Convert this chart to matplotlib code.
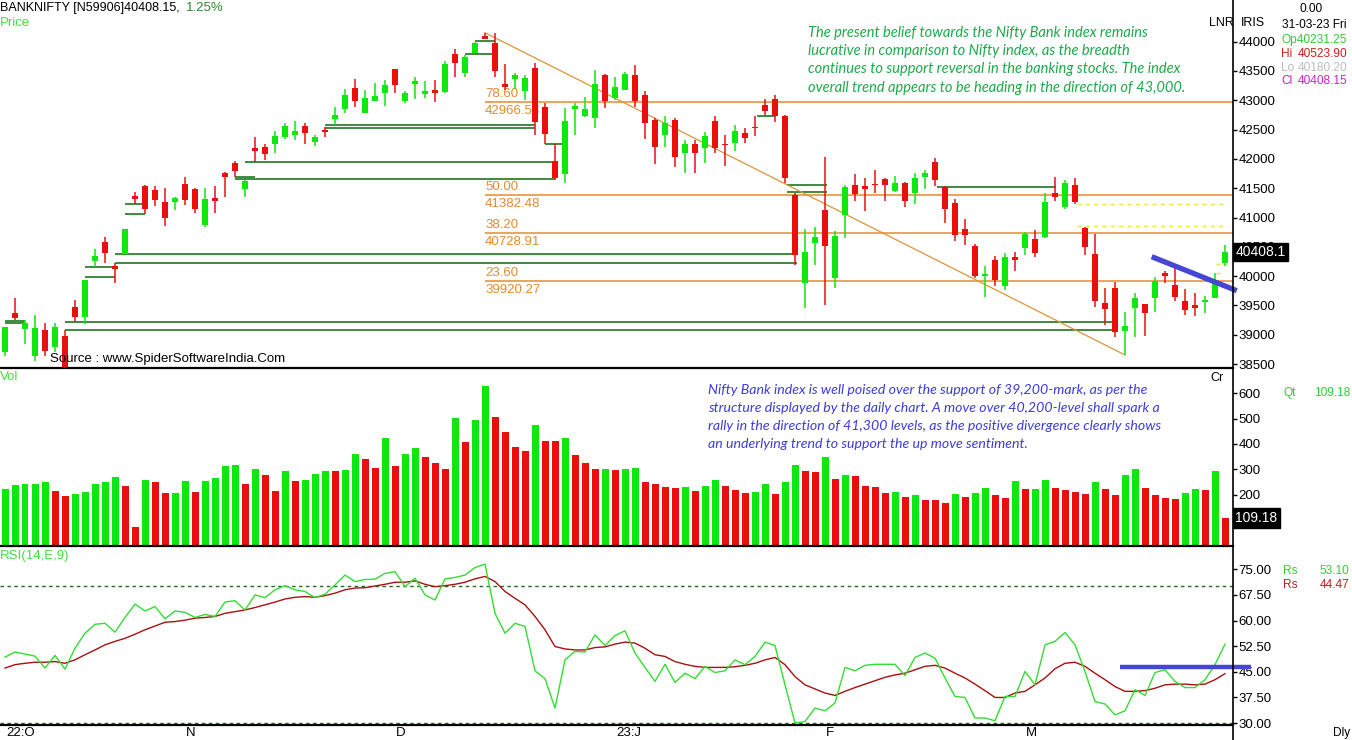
import matplotlib
matplotlib.use("Agg")
import matplotlib.pyplot as plt
import matplotlib.transforms as mtransforms
from matplotlib.lines import Line2D
import numpy as np

W, H = 1352, 740
AXR = 1233  # pixel x of the right price scale

# daily BANKNIFTY candles, Oct-22 .. 31-Mar-23
opens = [38711, 39366, 39103, 38638, 39081, 38797, 38979, 39479, 39308, 40258,
         40582, 40173, 40378, 41367, 41538, 41470, 41270, 41270, 41572, 41481,
         40872, 41333, 41765, 41925, 41481, 42191, 42208, 42249, 42379, 42408,
         42561, 42294, 42493, 42686, 42846, 43204, 42778, 42983, 43130, 43529,
         42993, 43278, 43102, 43176, 43147, 43790, 43471, 43812, 44097, 43972,
         43273, 43358, 43164, 43546, 42880, 41964, 41738, 42846, 42732, 42693,
         43431, 43034, 43176, 43426, 43090, 42664, 42408, 42664, 42095, 42249,
         42180, 42647, 42254, 42277, 42447, 42550, 42920, 43017, 42732, 41384,
         39878, 40571, 41128, 39963, 41043, 41555, 41538, 41567, 41652, 41458,
         41584, 41424, 41686, 41942, 41526, 41253, 40799, 40514, 40002, 40275,
         39832, 40321, 40485, 40629, 40673, 41424, 41185, 41555, 40816, 40378,
         39537, 39793, 39069, 39451, 39525, 39622, 40059, 39849, 39576, 39508,
         39554, 39622, 40231.25]
highs = [39140, 39622, 39252, 39337, 39206, 39195, 39081, 39593, 39934, 40458,
         40663, 40219, 40799, 41441, 41555, 41538, 41499, 41355, 41697, 41499,
         41499, 41538, 41782, 41964, 41640, 42379, 42254, 42476, 42618, 42647,
         42607, 42408, 42550, 42880, 43187, 43363, 43176, 43290, 43346, 43529,
         43164, 43392, 43329, 43346, 43670, 43870, 43773, 44000, 44153, 44143,
         43619, 43471, 43431, 43631, 42949, 42254, 42863, 42949, 43051, 43517,
         43449, 43392, 43488, 43602, 43164, 42693, 42732, 42693, 42323, 42323,
         42465, 42732, 42408, 42578, 42532, 42732, 43017, 43090, 42749, 41413,
         40799, 40833, 42027, 40776, 41555, 41743, 41669, 41811, 41669, 41708,
         41612, 41754, 41811, 42010, 41538, 41311, 40970, 40543, 40173, 40344,
         40400, 40417, 40759, 40787, 41413, 41686, 41640, 41669, 40844, 40714,
         39793, 39905, 39393, 39718, 39525, 39980, 40093, 40144, 39776, 39707,
         39661, 40059, 40523.90]
lows = [38638, 39252, 38837, 38552, 38638, 38711, 38440, 39223, 39184, 40161,
        40229, 39878, 40378, 41231, 41060, 41197, 40855, 41128, 41214, 41083,
        40844, 41083, 41355, 41697, 41345, 41942, 41981, 42106, 42335, 42323,
        42249, 42225, 42379, 42578, 42788, 42891, 42778, 42983, 42908, 43130,
        42959, 43017, 43034, 42976, 43130, 43392, 43403, 43802, 44040, 43403,
        43176, 43188, 43005, 42408, 42254, 41640, 41594, 42408, 42721, 42522,
        42863, 43005, 43176, 42891, 42335, 41908, 42208, 41867, 41754, 41765,
        41924, 42095, 41884, 42140, 42266, 42391, 42749, 42635, 41584, 40190,
        39451, 40190, 39508, 39793, 40646, 41287, 41117, 41424, 41287, 41441,
        41185, 41231, 41481, 41538, 40912, 40605, 40531, 39963, 39639, 39837,
        39764, 40093, 40361, 40332, 40646, 41287, 41140, 41231, 40361, 39479,
        39167, 38967, 38655, 38956, 38978, 39393, 39878, 39581, 39337, 39320,
        39367, 39622, 40180.20]
closes = [39127, 39291, 39206, 39110, 38728, 39127, 38455, 39308, 39934, 40344,
          40390, 40117, 40799, 41321, 41140, 41299, 40997, 41333, 41299, 41145,
          41316, 41277, 41697, 41799, 41623, 42140, 42084, 42391, 42561, 42476,
          42447, 42379, 42465, 42749, 43085, 42993, 43034, 43073, 43256, 43261,
          43119, 43334, 43159, 43119, 43619, 43641, 43733, 43972, 44051, 43505,
          43232, 43431, 43375, 42635, 42420, 41679, 42647, 42903, 42846, 43273,
          42993, 43222, 43449, 42993, 42618, 42198, 42607, 42027, 42249, 42095,
          42391, 42180, 42237, 42481, 42351, 42522, 42823, 42732, 41669, 40361,
          40407, 40663, 40514, 40685, 41516, 41401, 41492, 41550, 41555, 41584,
          41287, 41669, 41765, 41640, 41140, 40702, 40697, 40002, 40031, 39934,
          40321, 40275, 40714, 40400, 41270, 41356, 41594, 41270, 40502, 39581,
          39434, 39052, 39149, 39622, 39377, 39922, 40002, 39639, 39422, 39452,
          39594, 39905, 40408.15]

# volume in Cr, and bar colour (G = up day, R = down day)
volumes = [224, 239, 243, 243, 251, 216, 196, 204, 212, 243,
           251, 271, 235, 74, 259, 251, 208, 208, 255, 212,
           255, 267, 314, 318, 243, 302, 278, 216, 293, 253,
           259, 283, 294, 293, 297, 361, 341, 306, 424, 314,
           361, 384, 349, 326, 302, 503, 408, 495, 629, 507,
           448, 389, 373, 475, 412, 412, 424, 356, 326, 302,
           302, 298, 302, 306, 251, 243, 231, 227, 231, 216,
           235, 259, 235, 219, 208, 212, 243, 204, 251, 318,
           293, 289, 349, 263, 278, 275, 235, 231, 208, 212,
           192, 200, 180, 180, 168, 204, 192, 208, 227, 200,
           188, 255, 224, 224, 259, 227, 219, 212, 204, 251,
           224, 200, 278, 302, 227, 200, 188, 184, 208, 224,
           219, 294, 109.18]
vol_dir = ("GGGGGRRGGGGGRRGRRGGRGGGGRGRRGRGGGRGGRRGRGGRRRGRGGRRRRGRRGRRRGR"
           "GGRRRRGRGGRRRGGRGGRRGRGRRRRGRGRRRGRGGRRGRGGRRRRGRRGGRRRRGGRGR")

# RSI(14) and its 9-period EMA
rsi = [49.3, 50.8, 50.2, 49.6, 46.1, 49.8, 45.8, 51.9, 56.3, 58.9,
       59.2, 56.6, 60.9, 64.8, 62.8, 64.1, 60.5, 62.8, 62.4, 60.9,
       61.8, 61.2, 65.4, 65.8, 63.1, 67.5, 66.7, 69.0, 70.2, 69.0,
       68.5, 66.7, 67.7, 70.4, 73.3, 71.4, 72.0, 72.1, 73.8, 74.3,
       69.9, 72.4, 67.5, 66.0, 72.2, 72.6, 73.3, 75.5, 76.5, 62.1,
       56.3, 59.2, 58.3, 45.3, 43.0, 34.4, 48.5, 51.0, 50.8, 55.8,
       52.7, 55.6, 57.0, 50.5, 46.3, 42.2, 47.2, 41.9, 44.6, 43.0,
       46.6, 44.8, 45.3, 48.5, 47.1, 49.5, 53.7, 52.7, 41.2, 30.0,
       30.5, 34.4, 33.6, 35.9, 46.3, 45.3, 46.9, 47.2, 47.2, 47.2,
       43.9, 49.2, 50.5, 49.0, 43.2, 37.8, 37.5, 31.5, 31.5, 30.7,
       37.8, 37.8, 45.1, 41.2, 52.9, 53.9, 56.5, 52.9, 45.1, 36.3,
       35.6, 32.4, 33.6, 39.8, 38.1, 44.8, 45.6, 42.2, 40.4, 40.4,
       42.7, 47.1, 53.10]
rsi_signal = [46.1, 47.1, 47.5, 47.8, 47.8, 48.0, 47.5, 48.5, 50.0, 51.4,
              52.9, 53.9, 54.8, 56.0, 57.3, 58.4, 59.5, 59.7, 60.1, 60.7,
              60.9, 61.2, 62.1, 62.6, 63.1, 63.8, 64.6, 65.4, 66.3, 66.8,
              67.0, 66.8, 67.3, 68.0, 69.0, 69.5, 69.6, 70.1, 70.6, 71.2,
              71.2, 71.6, 70.6, 69.9, 70.2, 70.6, 71.2, 72.2, 72.9, 71.4,
              68.5, 66.5, 64.6, 61.2, 57.3, 52.4, 51.7, 51.4, 51.4, 52.1,
              52.3, 53.1, 53.7, 53.4, 51.9, 50.0, 49.5, 48.0, 47.2, 46.6,
              46.3, 46.3, 46.3, 46.5, 46.9, 47.5, 48.5, 49.2, 47.1, 43.6,
              41.2, 40.0, 38.8, 38.1, 39.3, 40.4, 41.4, 42.4, 43.4, 44.1,
              44.6, 45.6, 46.6, 46.9, 46.1, 44.6, 43.2, 41.4, 39.5, 37.5,
              37.5, 38.8, 39.3, 41.2, 43.2, 45.9, 47.5, 47.8, 46.6, 44.6,
              42.7, 40.7, 39.3, 39.3, 39.5, 40.2, 41.2, 41.4, 41.4, 41.2,
              41.4, 42.7, 44.47]

month_ticks = [0, 18, 39, 61, 82, 102]
month_labels = ["22:O", "N", "D", "23:J", "F", "M"]

# stepped support lines drawn by the software: (from bar, to bar, price)
supports = [(0, 2, 39240), (0, 2, 39206), (6, 111, 39212), (6, 111, 39081),
            (8, 11, 40151), (8, 11, 39990), (11, 79, 40373), (11, 79.2, 40219),
            (12, 14, 41231), (12, 14, 41060), (23, 25, 41686),
            (24, 54.8, 41942), (23, 55, 41652), (32, 53, 42573), (32, 53, 42522),
            (46, 49, 43790), (47, 49, 44017), (54, 56, 42254),
            (75.2, 77, 42737), (78.2, 82.2, 41555), (78.2, 82.2, 41430),
            (93.2, 105.1, 41526)]
yellow_levels = [(107.2, 121.8, 41231), (107.2, 121.8, 40855),
                 (121.1, 122.2, 40202), (121.1, 121.8, 40059)]

fib_start = 48
fib_levels = ["78.60", "50.00", "38.20", "23.60"]
fib_prices = [42966.53, 41382.48, 40728.91, 39920.27]

trend_x = [48, 112]
trend_y = [44153, 38655]
blue_px = [114.67, 123.17]
blue_py = [40332, 39752]
blue_rx = [111.5, 124.6]
blue_ry = [46.4, 46.4]

price_ticks = list(range(38500, 44001, 500))
vol_ticks = [200, 300, 400, 500, 600]
rsi_ticks = [30, 37.5, 45, 52.5, 60, 67.5, 75]

GREEN = "#0FE80F"
RED = "#E80F0F"
ORANGE = "#E58A2E"
UI = ["Liberation Sans", "DejaVu Sans"]
plt.rcParams["font.family"] = UI

fig = plt.figure(figsize=(W / 100, H / 100), dpi=100)
fig.patch.set_facecolor("white")


def box(top, bottom):
    return [0, 1 - bottom / H, AXR / W, (bottom - top) / H]


def put(x, y, s, **kw):
    kw.setdefault("fontsize", 9)
    kw.setdefault("va", "center")
    fig.text(x / W, 1 - y / H, s, **kw)


ax_p = fig.add_axes(box(0, 368))
ax_v = fig.add_axes(box(368, 546))
ax_r = fig.add_axes(box(546, 725))

for ax in (ax_p, ax_v, ax_r):
    ax.set_xlim(-0.5, 122.8)
    ax.set_facecolor("none")
    for s in ("left", "top", "right"):
        ax.spines[s].set_visible(False)
    ax.spines["bottom"].set_linewidth(1.6)
    ax.spines["bottom"].set_color("black")
    ax.set_xticks([])
    ax.yaxis.tick_right()
    ax.tick_params(axis="y", length=3, width=1, pad=1, labelsize=9.5,
                   colors="black")

idx = np.arange(len(closes))
o = np.array(opens)
c = np.array(closes)
up = c >= o
col = np.where(up, GREEN, RED)

# price panel
ax_p.set_ylim(38433, 44711)
ax_p.set_yticks(price_ticks)
ax_p.set_yticklabels([str(t) for t in price_ticks])

for a, b, p in supports:
    ax_p.hlines(p, a, b, color="#0B6A0B", lw=1.1, zorder=2)
for a, b, p in yellow_levels:
    ax_p.hlines(p, a, b, color="#F0E050", lw=1.0, linestyles=(0, (3, 3)), zorder=2)
for lab, p in zip(fib_levels, fib_prices):
    ax_p.hlines(p, fib_start, 122.8, color=ORANGE, lw=1.1, zorder=2)
    ax_p.annotate(lab, (fib_start, p), xytext=(0, 8), textcoords="offset pixels",
                  color=ORANGE, fontsize=9.5, va="center", ha="left")
    ax_p.annotate(f"{p:.2f}", (fib_start, p), xytext=(0, -9), textcoords="offset pixels",
                  color=ORANGE, fontsize=9.5, va="center", ha="left")
ax_p.plot(trend_x, trend_y, color="#D9963A", lw=0.9, zorder=2)

mid = (o + c) / 2
body = np.maximum(np.abs(c - o), 22)
ax_p.vlines(idx, lows, highs, colors=col, lw=1.1, zorder=3)
ax_p.bar(idx, body, bottom=mid - body / 2, width=0.66, color=col, lw=0, zorder=4)

ax_p.plot(blue_px, blue_py, color="#4646D6", lw=3.8, clip_on=False,
          solid_capstyle="butt", zorder=5)

tp = mtransforms.blended_transform_factory(ax_p.transAxes, ax_p.transData)
ax_p.text(1.002, closes[-1], "40408.1", transform=tp, color="white", fontsize=10,
          va="center", ha="left", zorder=6,
          bbox=dict(boxstyle="square,pad=0.15", fc="black", ec="black"))

# volume panel
ax_v.set_ylim(-2, 699)
ax_v.set_yticks(vol_ticks)
ax_v.set_yticklabels([str(t) for t in vol_ticks])
vcol = [GREEN if d == "G" else RED for d in vol_dir]
ax_v.bar(idx, volumes, width=0.7, color=vcol, lw=0)
tv = mtransforms.blended_transform_factory(ax_v.transAxes, ax_v.transData)
ax_v.text(1.002, volumes[-1], "109.18", transform=tv, color="white", fontsize=10,
          va="center", ha="left",
          bbox=dict(boxstyle="square,pad=0.2", fc="black", ec="black"))

# RSI panel
ax_r.set_ylim(29.45, 81.8)
ax_r.set_yticks(rsi_ticks)
ax_r.set_yticklabels([f"{t:.2f}" for t in rsi_ticks])
for lvl in (70, 30):
    ax_r.axhline(lvl, color="#1E6E1E", lw=1, linestyle=(0, (2.5, 2.5)))
ax_r.plot(idx, rsi_signal, color="#A81010", lw=1.0)
ax_r.plot(idx, rsi, color="#33DD33", lw=1.0)
ax_r.plot(blue_rx, blue_ry, color="#4646D6", lw=3.2, clip_on=False,
          solid_capstyle="butt", zorder=5)

tx = mtransforms.blended_transform_factory(ax_r.transData, fig.transFigure)
for i, lab in zip(month_ticks, month_labels):
    ax_r.text(i + 0.1, 1 - 733 / H, lab, transform=tx, fontsize=9.5,
              ha="left", va="center")

fig.add_artist(Line2D([AXR / W, AXR / W], [0, 1], color="black", lw=1.2))

# header and side texts
put(0, 8, "BANKNIFTY [N59906]40408.15,", fontsize=9)
put(186, 8, "1.25%", color="#2E8B2E", fontsize=9.5)
put(0, 23, "Price", color="#44DD44", fontsize=9.5)
put(50, 359, "Source : www.SpiderSoftwareIndia.Com", fontsize=9.5)
put(0, 377, "Vol", color="#44DD44", fontsize=9.5)
put(0, 556, "RSI(14,E,9)", color="#44DD44", fontsize=9.5)

SIDE = 8.6
put(1209, 23, "LNR", fontsize=9)
put(1241, 23, "IRIS", fontsize=9)
put(1299, 9, "0.00", fontsize=SIDE)
put(1282, 25, "31-03-23 Fri", fontsize=SIDE)
put(1281, 40, "Op40231.25", color="#33CC33", fontsize=SIDE)
put(1281, 54, "Hi", color="#D02020", fontsize=SIDE)
put(1298, 54, "40523.90", color="#D02020", fontsize=SIDE)
put(1281, 68, "Lo", color="#BDBDBD", fontsize=SIDE)
put(1298, 68, "40180.20", color="#BDBDBD", fontsize=SIDE)
put(1281, 81, "Cl", color="#CC22CC", fontsize=SIDE)
put(1298, 81, "40408.15", color="#CC22CC", fontsize=SIDE)

put(1210, 378, "Cr", fontsize=9)
put(1284, 393, "Qt", color="#33CC33", fontsize=SIDE)
put(1314, 393, "109.18", color="#33CC33", fontsize=SIDE)
put(1283, 571, "Rs", color="#33CC33", fontsize=SIDE)
put(1320, 571, "53.10", color="#33CC33", fontsize=SIDE)
put(1283, 585, "Rs", color="#C02020", fontsize=SIDE)
put(1320, 585, "44.47", color="#C02020", fontsize=SIDE)
put(1333, 733, "Dly", fontsize=SIDE)

note_green = ["The present belief towards the Nifty Bank index remains",
              "lucrative in comparison to Nifty index, as the breadth",
              "continues to support reversal in the banking stocks. The index",
              "overall trend appears to be heading in the direction of 43,000."]
note_blue = ["Nifty Bank index is well poised over the support of 39,200-mark, as per the",
             "structure displayed by the daily chart. A move over 40,200-level shall spark a",
             "rally in the direction of 41,300 levels, as the positive divergence clearly shows",
             "an underlying trend to support the up move sentiment."]
for k, line in enumerate(note_green):
    put(808, 33 + 18.2 * k, line, color="#1DAA4A", fontsize=10.5,
        family=["Lato", "DejaVu Sans"], style="italic")
for k, line in enumerate(note_blue):
    put(708, 390 + 18.1 * k, line, color="#3C3CDC", fontsize=10.2,
        family=["Lato", "DejaVu Sans"], style="italic")

fig.savefig("out.png", dpi=100)
